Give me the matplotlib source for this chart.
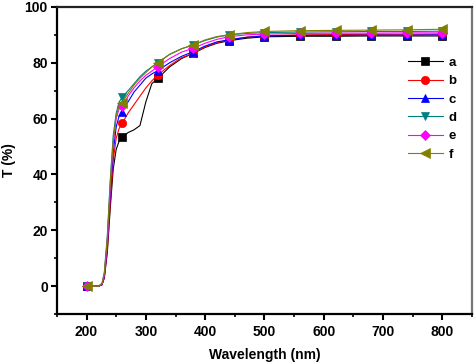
import matplotlib
matplotlib.use("Agg")
import matplotlib.pyplot as plt
from matplotlib.ticker import MultipleLocator

plt.rcParams['font.family'] = ['Liberation Sans', 'DejaVu Sans']
plt.rcParams['font.weight'] = 'bold'

wavelength = [200, 210, 220, 226, 230, 235, 240, 245, 250, 255, 260, 270, 280, 290, 300,
              310, 320, 340, 360, 380, 400, 420, 440, 470, 500, 560, 620, 680, 740, 800]
a = [0, 0, 0, 0.5, 3, 12, 28, 42, 49, 52, 53.3, 55, 56, 57.5, 66, 72.5, 74.4, 78.5, 81.5, 83.4,
     85.5, 87, 87.9, 88.8, 89.3, 89.5, 89.5, 89.6, 89.6, 89.6]
b = [0, 0, 0, 0.5, 3, 13, 30, 45, 53, 56.5, 58.3, 62, 65, 68, 71, 73.5, 75.6, 79, 81.8, 83.4,
     85.7, 87.2, 88.2, 89.2, 89.7, 90, 90.1, 90.2, 90.2, 90.3]
c = [0, 0, 0, 0.5, 3.5, 15, 33, 48, 57, 61, 62.5, 66, 69.5, 72, 74.5, 76, 77.2, 80, 82.3, 84,
     86, 87.5, 88.2, 89.1, 89.6, 89.8, 89.8, 89.9, 89.9, 90.0]
d = [0, 0, 0, 1, 5, 18, 38, 54, 62, 66, 67.6, 70, 72.5, 75, 77, 78.5, 80, 83, 85, 86.4,
     88, 89.2, 90, 90.5, 90.8, 91, 91.1, 91.2, 91.2, 91.3]
e = [0, 0, 0, 0.7, 4, 16, 35, 51, 60, 63.5, 64.5, 68, 71, 73.5, 75.5, 77, 78.6, 81.5, 83.8, 85.2,
     87, 88.4, 89.3, 90, 90.3, 90.5, 90.6, 90.6, 90.7, 90.7]
f = [0, 0, 0, 0.8, 4.5, 17, 37, 52, 61, 64.5, 65.7, 69, 72, 74.5, 76.5, 78.5, 80, 83, 85, 86.4,
     88.2, 89.4, 90, 90.8, 91.2, 91.5, 91.6, 91.7, 91.8, 92]
labels = ['a', 'b', 'c', 'd', 'e', 'f']
marker_wavelengths = [200, 260, 320, 380, 440, 500, 560, 620, 680, 740, 800]

series = [a, b, c, d, e, f]
colors = ['black', 'red', 'blue', '#008080', 'magenta', '#808000']
markers = ['s', 'o', '^', 'v', 'D', '<']
msizes = [5.5, 6, 6, 6, 5, 6.5]

fig = plt.figure(figsize=(4.74, 3.64), dpi=100)
ax = fig.add_axes([0.120, 0.137, 0.876, 0.844])

mark_idx = [wavelength.index(w) for w in marker_wavelengths]
for ys, col, mk, ms, lab in zip(series, colors, markers, msizes, labels):
    ax.plot(wavelength, ys, color=col, lw=0.8, marker=mk, markersize=ms,
            markevery=mark_idx, markeredgewidth=0.5, markeredgecolor=col,
            markerfacecolor=col, label=lab)

ax.set_xlim(150, 850)
ax.set_ylim(-10, 100)
ax.xaxis.set_major_locator(MultipleLocator(100))
ax.xaxis.set_minor_locator(MultipleLocator(50))
ax.yaxis.set_major_locator(MultipleLocator(20))
ax.yaxis.set_minor_locator(MultipleLocator(10))
ax.tick_params(which='major', direction='out', length=4, width=1.5, labelsize=10)
ax.tick_params(axis='x', which='major', pad=4)
ax.tick_params(axis='y', which='major', pad=2.5)
ax.tick_params(which='minor', direction='out', length=2.5, width=1.2)
ax.tick_params(top=False, right=False, which='both')
for lbl in ax.get_xticklabels() + ax.get_yticklabels():
    lbl.set_fontweight('bold')

for s in ['left', 'bottom']:
    ax.spines[s].set_linewidth(1.6)
    ax.spines[s].set_color('black')
ax.spines['top'].set_linewidth(1.6)
ax.spines['top'].set_color('#222222')
ax.spines['right'].set_linewidth(1.6)
ax.spines['right'].set_color('#777777')

ax.set_xlabel('Wavelength (nm)', fontsize=10, fontweight='bold', labelpad=6)
ax.set_ylabel('T (%)', fontsize=10, fontweight='bold', labelpad=6)

leg = ax.legend(loc='upper right', bbox_to_anchor=(0.975, 0.855), frameon=False,
                fontsize=9.5, handlelength=2.7, handletextpad=0.4, labelspacing=0.46,
                borderaxespad=0)
for t in leg.get_texts():
    t.set_fontweight('bold')

fig.savefig('out.png', dpi=100)
